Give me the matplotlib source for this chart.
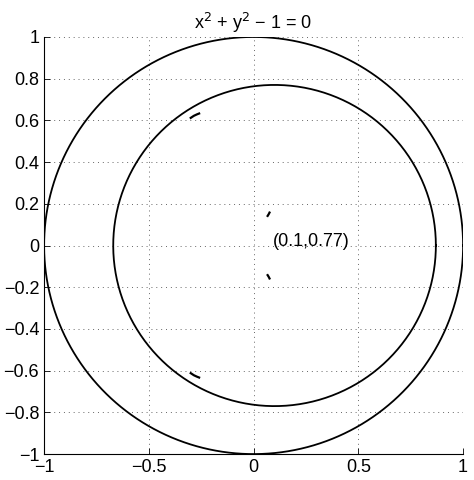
import numpy as np
import matplotlib.pyplot as plt

plt.rcParams['font.family'] = ['Liberation Sans', 'DejaVu Sans']

# curves
outer_c = (0.0, 0.0)
outer_r = 1.0
inner_c = (0.1, 0.0)
inner_r = 0.77

# short stray segments seen in the plot
seg_upper_x = [-0.30, -0.285, -0.27, -0.26]
seg_upper_y = [0.612, 0.622, 0.629, 0.633]
seg_lower_x = [-0.30, -0.285, -0.27, -0.26]
seg_lower_y = [-0.612, -0.622, -0.629, -0.633]
seg_mid_up_x = [0.067, 0.072, 0.076]
seg_mid_up_y = [0.142, 0.150, 0.158]
seg_mid_lo_x = [0.067, 0.072, 0.076]
seg_mid_lo_y = [-0.142, -0.150, -0.158]

label_text = "(0.1,0.77)"
xticks = [-1, -0.5, 0, 0.5, 1]
yticks = [-1, -0.8, -0.6, -0.4, -0.2, 0, 0.2, 0.4, 0.6, 0.8, 1]


def fmt(v):
    if v == 0:
        return "0"
    s = f"{abs(v):g}"
    return "\u2212" + s if v < 0 else s


fig = plt.figure(figsize=(4.74, 4.8), dpi=100)
ax = fig.add_axes([0.093, 0.054, 0.884, 0.869])

t = np.linspace(0, 2 * np.pi, 600)
ax.plot(outer_c[0] + outer_r * np.cos(t), outer_c[1] + outer_r * np.sin(t), color="black", lw=1.3)
ax.plot(inner_c[0] + inner_r * np.cos(t), inner_c[1] + inner_r * np.sin(t), color="black", lw=1.3)

for sx, sy in [(seg_upper_x, seg_upper_y), (seg_lower_x, seg_lower_y),
               (seg_mid_up_x, seg_mid_up_y), (seg_mid_lo_x, seg_mid_lo_y)]:
    ax.plot(sx, sy, color="black", lw=1.6)

ax.text(0.09, 0.02, label_text, fontsize=13, va="center", ha="left")

ax.set_xlim(-1, 1)
ax.set_ylim(-1, 1)
ax.set_xticks(xticks)
ax.set_xticklabels([fmt(v) for v in xticks])
ax.set_yticks(yticks)
ax.set_yticklabels([fmt(v) for v in yticks])
ax.tick_params(labelsize=13, direction="in", length=4, width=0.6)
ax.grid(True, linestyle=(0, (1, 4)), color="black", lw=0.7, alpha=0.6)
ax.spines["top"].set_visible(False)
ax.spines["right"].set_visible(False)
ax.spines["left"].set_linewidth(0.8)
ax.spines["bottom"].set_linewidth(0.8)
ax.set_title("x$^2$ + y$^2$ \u2212 1 = 0", fontsize=13)

fig.savefig("out.png", dpi=100)
